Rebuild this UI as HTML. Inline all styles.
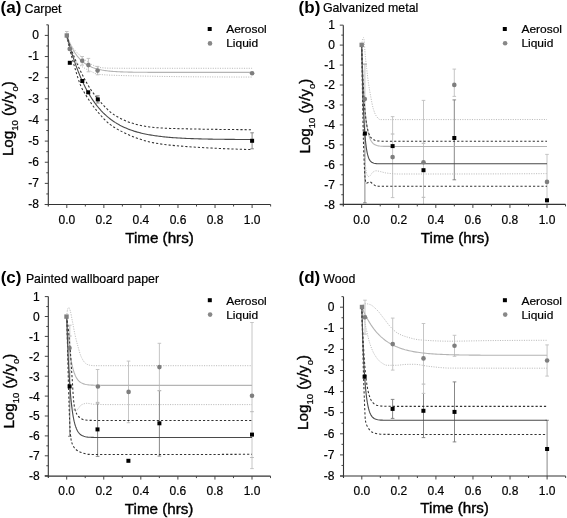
<!DOCTYPE html>
<html><head><meta charset="utf-8"><style>
html,body{margin:0;padding:0;background:#fff;}
svg{display:block;filter:blur(0.3px);}
.tk{font-size:12px;stroke:#000;stroke-width:0.2px;}
.ax{font-size:15.2px;stroke:#000;stroke-width:0.4px;}
.sb{font-size:9.5px;stroke-width:0.25px;}
.tt{font-size:17px;font-weight:bold;}
.st{font-size:12.35px;stroke:#000;stroke-width:0.2px;}
.lg{font-size:11.3px;stroke:#000;stroke-width:0.2px;}
</style></head><body>
<svg width="567" height="518" viewBox="0 0 567 518" font-family='"Liberation Sans", Arial, Helvetica, sans-serif' fill="#000">
<rect width="567" height="518" fill="#fff"/>
<path d="M97.8,95.8V103M96,95.8H99.6M96,103H99.6" stroke="#7a7a7a" stroke-width="0.9" fill="none"/>
<path d="M252.1,132.8V148.8M250.3,132.8H253.9M250.3,148.8H253.9" stroke="#7a7a7a" stroke-width="0.9" fill="none"/>
<path d="M66.8,31.5V39.5M65,31.5H68.6" stroke="#c0c0c0" stroke-width="0.9" fill="none"/>
<path d="M82.2,56.5V65.1M80.4,56.5H84M80.4,65.1H84" stroke="#c0c0c0" stroke-width="0.9" fill="none"/>
<path d="M88.4,58.4V71.8M86.6,58.4H90.2M86.6,71.8H90.2" stroke="#c0c0c0" stroke-width="0.9" fill="none"/>
<path d="M97.6,66.4V74.8M95.8,66.4H99.4M95.8,74.8H99.4" stroke="#c0c0c0" stroke-width="0.9" fill="none"/>
<path d="M252.1,72V74.5" stroke="#c0c0c0" stroke-width="0.9" fill="none"/>
<path d="M66.8,35.4C68.3,39.41 69.8,43.09 71.3,45.5C73.37,48.83 75.43,50.93 77.49,53.09C79.59,55.3 81.69,57.18 83.79,58.87C86.47,61.02 89.14,63.27 91.82,64.57C94.47,65.87 97.13,67.23 99.78,67.53C103,67.9 106.21,68.13 109.42,68.17C116.83,68.25 124.24,68.29 131.66,68.29C171.8,68.29 211.95,68.29 252.1,68.29" stroke="#b8b8b8" stroke-width="0.95" stroke-dasharray="1.1 1.3" fill="none"/>
<path d="M66.8,35.4C67.83,41.95 68.86,47.59 69.89,50.62C70.9,53.58 71.91,55.26 72.91,56.96C74.44,59.55 75.97,61.85 77.49,63.3C79.59,65.3 81.69,66.5 83.79,67.74C86.16,69.14 88.52,70.26 90.89,71.34C93.11,72.35 95.34,73.72 97.56,74.09C100.37,74.55 103.18,74.76 105.99,74.93C109.36,75.13 112.72,75.24 116.09,75.35C127.45,75.73 138.82,76 150.19,76.2C165.63,76.48 181.07,76.74 196.51,76.83C215.04,76.95 233.57,77.05 252.1,77.05" stroke="#b8b8b8" stroke-width="0.95" stroke-dasharray="1.1 1.3" fill="none"/>
<path d="M66.8,35.4 67.22,36.59 67.64,37.77 68.14,39.08 68.65,40.39 69.15,41.6 69.7,42.9 70.3,44.27 70.83,45.41 71.4,46.58 72,47.76 72.64,48.97 73.31,50.17 74.03,51.38 74.78,52.58 75.57,53.76 76.39,54.93 77.25,56.07 78.15,57.18 79.09,58.25 80.06,59.29 81.07,60.28 82.12,61.24 83.2,62.14 84.32,63 85.48,63.82 86.67,64.58 87.91,65.3 89.18,65.97 90.48,66.6 91.83,67.18 93.21,67.71 94.62,68.2 96.08,68.65 97.57,69.07 99.1,69.44 100.66,69.78 101.86,70.02 103.08,70.23 104.32,70.43 105.58,70.62 106.87,70.79 108.17,70.94 109.49,71.09 110.84,71.22 112.2,71.34 113.59,71.44 115,71.54 116.42,71.63 117.87,71.72 119.34,71.79 120.83,71.86 122.34,71.92 123.88,71.97 125.43,72.02 127,72.06 128.6,72.1 130.21,72.14 131.85,72.17 133.51,72.19 135.19,72.22 136.89,72.24 138.6,72.26 140.35,72.28 142.11,72.29 143.89,72.31 145.69,72.32 146.91,72.32 148.13,72.33 149.36,72.34 150.6,72.34 151.85,72.35 153.11,72.35 154.38,72.36 155.66,72.36 156.95,72.36 158.25,72.37 159.55,72.37 160.87,72.37 162.19,72.37 163.53,72.38 164.87,72.38 166.22,72.38 167.59,72.38 168.96,72.38 170.34,72.38 171.73,72.38 173.13,72.39 174.53,72.39 175.95,72.39 177.38,72.39 178.82,72.39 180.26,72.39 181.71,72.39 183.18,72.39 184.65,72.39 186.13,72.39 187.63,72.39 189.13,72.39 190.64,72.39 192.16,72.39 193.69,72.39 195.22,72.39 196.77,72.39 198.33,72.39 199.89,72.39 201.47,72.39 203.05,72.39 204.65,72.39 206.25,72.39 207.86,72.39 209.48,72.39 211.11,72.39 212.75,72.39 214.4,72.39 216.06,72.39 217.73,72.39 219.4,72.39 221.09,72.39 222.79,72.39 224.49,72.39 226.21,72.39 227.93,72.39 229.66,72.39 231.4,72.39 233.15,72.39 234.91,72.39 236.68,72.39 238.46,72.39 240.25,72.39 242.05,72.39 243.86,72.39 245.67,72.39 247.5,72.39 249.33,72.39 251.17,72.39 252.1,72.39" stroke="#b4b4b4" stroke-width="1.1" fill="none"/>
<path d="M66.8,35.4C67.83,38.81 68.86,42.09 69.89,45.12C71.33,49.35 72.77,53.43 74.21,56.96C77.11,64.07 80.01,70.17 82.9,75.78C85.47,80.74 88.03,85.44 90.59,89.31C92.54,92.25 94.5,94.69 96.45,97.13C98.36,99.53 100.28,101.83 102.19,103.89C105.22,107.15 108.25,110.52 111.27,112.77C115.23,115.71 119.18,118.01 123.13,119.75C127.58,121.71 132.03,123.3 136.47,124.4C140.86,125.49 145.24,126.35 149.63,126.94C152.29,127.29 154.94,127.59 157.6,127.78C161.74,128.07 165.87,128.27 170.01,128.42C178.84,128.72 187.68,128.89 196.51,129.05C205.78,129.22 215.04,129.38 224.31,129.47C233.57,129.57 242.84,129.65 252.1,129.68" stroke="#333" stroke-width="1.05" stroke-dasharray="2.2 2" fill="none"/>
<path d="M66.8,35.4C67.83,40.37 68.86,45.1 69.89,49.35C71.33,55.29 72.77,60.74 74.21,65.63C76.47,73.32 78.73,81.29 80.99,86.35C82.59,89.93 84.19,92.37 85.79,95.01C87.74,98.24 89.68,101.14 91.63,103.89C93.54,106.6 95.46,109.26 97.37,111.5C101.57,116.43 105.77,121.23 109.97,124.4C114.36,127.7 118.75,130.04 123.13,132.22C127.58,134.43 132.03,136.34 136.47,137.93C140.86,139.49 145.24,140.93 149.63,141.95C152.59,142.63 155.56,143.18 158.52,143.64C162.35,144.23 166.18,144.71 170.01,145.12C174.71,145.62 179.4,146.03 184.09,146.38C193.11,147.06 202.13,147.66 211.15,148.08C224.8,148.71 238.45,149.28 252.1,149.56" stroke="#333" stroke-width="1.05" stroke-dasharray="2.2 2" fill="none"/>
<path d="M66.8,35.4 67.13,36.69 67.47,37.96 67.84,39.37 68.22,40.76 68.56,42.02 68.94,43.39 69.36,44.87 69.7,46.05 70.05,47.29 70.43,48.58 70.83,49.93 71.25,51.32 71.69,52.76 72.16,54.24 72.64,55.76 73.14,57.32 73.67,58.91 74.21,60.54 74.78,62.19 75.37,63.86 75.97,65.56 76.39,66.7 76.82,67.85 77.25,69 77.7,70.16 78.15,71.33 78.61,72.49 79.09,73.66 79.57,74.84 80.06,76.01 80.56,77.18 81.07,78.36 81.59,79.53 82.12,80.7 82.65,81.87 83.2,83.03 83.76,84.19 84.32,85.34 84.9,86.49 85.48,87.64 86.07,88.77 86.67,89.9 87.29,91.02 87.91,92.13 88.54,93.23 89.18,94.32 89.82,95.4 90.48,96.47 91.15,97.53 91.83,98.58 92.51,99.61 93.21,100.63 93.91,101.64 94.62,102.64 95.35,103.62 96.08,104.59 96.82,105.54 97.57,106.48 98.71,107.86 99.88,109.21 101.06,110.52 102.27,111.8 103.49,113.04 104.74,114.25 106.01,115.42 107.3,116.55 108.61,117.65 109.94,118.71 111.29,119.74 112.66,120.73 114.06,121.68 115.47,122.6 116.91,123.49 118.36,124.34 119.84,125.16 121.33,125.94 122.85,126.69 124.39,127.41 125.95,128.1 127.53,128.76 129.13,129.39 130.76,129.99 132.4,130.56 134.07,131.11 135.75,131.62 137.46,132.12 139.18,132.58 140.35,132.88 141.52,133.17 142.7,133.45 143.89,133.71 145.09,133.97 146.3,134.22 147.52,134.46 148.74,134.69 149.98,134.91 151.23,135.13 152.48,135.33 153.75,135.53 155.02,135.72 156.3,135.9 157.6,136.08 158.9,136.24 160.21,136.4 161.53,136.56 162.86,136.71 164.2,136.85 165.55,136.98 166.9,137.11 168.27,137.24 169.65,137.36 171.03,137.47 172.43,137.58 173.83,137.68 175.24,137.78 176.66,137.88 178.1,137.97 179.54,138.05 180.99,138.14 182.45,138.21 183.91,138.29 185.39,138.36 186.88,138.43 188.38,138.49 189.88,138.55 191.4,138.61 192.92,138.67 194.45,138.72 196,138.77 197.55,138.82 199.11,138.86 200.68,138.91 202.26,138.95 203.85,138.99 205.45,139.02 207.05,139.06 208.67,139.09 210.3,139.12 211.93,139.15 213.58,139.18 215.23,139.21 216.89,139.23 218.57,139.25 220.25,139.28 221.94,139.3 223.64,139.32 225.35,139.34 227.07,139.35 228.79,139.37 230.53,139.39 232.28,139.4 234.03,139.41 235.8,139.43 237.57,139.44 239.36,139.45 241.15,139.46 242.95,139.47 244.76,139.48 246.58,139.49 248.41,139.5 250.25,139.51 252.1,139.52" stroke="#4a4a4a" stroke-width="1.1" fill="none"/>
<rect x="64.6" y="33.3" width="4.4" height="4.4" fill="#808080"/>
<circle cx="69.7" cy="48.9" r="2.3" fill="#7e7e7e"/>
<circle cx="82.2" cy="60.8" r="2.3" fill="#7e7e7e"/>
<circle cx="88.4" cy="65.1" r="2.3" fill="#7e7e7e"/>
<circle cx="97.6" cy="70.6" r="2.3" fill="#7e7e7e"/>
<circle cx="252.1" cy="73.2" r="2.3" fill="#7e7e7e"/>
<rect x="67.8" y="60.8" width="4" height="4" fill="#000"/>
<rect x="80.3" y="79" width="4" height="4" fill="#000"/>
<rect x="86.2" y="90.3" width="4" height="4" fill="#000"/>
<rect x="95.8" y="97.4" width="4" height="4" fill="#000"/>
<rect x="250.1" y="138.8" width="4" height="4" fill="#000"/>
<path d="M364.9,64.2V64.3M364.9,133.9V202.8M363.1,64.2H366.7M363.1,202.8H366.7" stroke="#7a7a7a" stroke-width="0.9" fill="none"/>
<path d="M390.8,134H394.4M390.8,158.2H394.4" stroke="#ababab" stroke-width="0.9" fill="none"/>
<path d="M421.7,143.3H425.3M421.7,197.3H425.3" stroke="#ababab" stroke-width="0.9" fill="none"/>
<path d="M454.3,99.9V179.8M452.5,99.9H456.1M452.5,179.8H456.1" stroke="#7a7a7a" stroke-width="0.9" fill="none"/>
<path d="M364.9,64.3V133.9M363.1,64.3H366.7" stroke="#c0c0c0" stroke-width="0.9" fill="none"/>
<path d="M392.6,116.6V197.6M390.8,116.6H394.4M390.8,197.6H394.4" stroke="#c0c0c0" stroke-width="0.9" fill="none"/>
<path d="M423.5,100.4V204M421.7,100.4H425.3" stroke="#c0c0c0" stroke-width="0.9" fill="none"/>
<path d="M454.3,69.1V96.4M452.5,69.1H456.1M452.5,96.4H456.1" stroke="#c0c0c0" stroke-width="0.9" fill="none"/>
<path d="M547,154.4V204M545.2,154.4H548.8" stroke="#c0c0c0" stroke-width="0.9" fill="none"/>
<path d="M361.7,45.1C362,42.3 362.3,39.7 362.6,39C362.93,38.22 363.27,37.6 363.6,37.6C363.87,37.6 364.13,40.35 364.4,43C364.57,44.65 364.73,49.16 364.9,51.3C365.5,59.01 366.1,63.39 366.7,68.7C367.27,73.72 367.83,78.65 368.4,82.6C369.23,88.4 370.07,93.08 370.9,97.5C371.67,101.56 372.43,106 373.2,108.5C374.27,111.98 375.33,114.79 376.4,116.2C377.67,117.87 378.93,119.6 380.2,119.6C383.47,119.6 386.73,119.6 390,119.6C442.33,119.6 494.67,119.56 547,119.5" stroke="#b8b8b8" stroke-width="0.95" stroke-dasharray="1.1 1.3" fill="none"/>
<path d="M361.7,45.1C362.03,63.95 362.37,81.27 362.7,95C363.13,112.85 363.57,129.85 364,140C364.43,150.15 364.87,158.19 365.3,163C365.73,167.81 366.17,172.17 366.6,173.5C367.17,175.23 367.73,176.6 368.3,176.6C368.97,176.6 369.63,176.02 370.3,175.5C371.03,174.93 371.77,173.04 372.5,172.5C373.67,171.63 374.83,170.8 376,170.8C377.5,170.8 379,171.29 380.5,171.6C382.2,171.95 383.9,172.66 385.6,172.9C389.73,173.48 393.87,174 398,174C447.67,174 497.33,174 547,173.6" stroke="#b8b8b8" stroke-width="0.95" stroke-dasharray="1.1 1.3" fill="none"/>
<path d="M361.7,45.1 361.74,46.39 361.79,47.98 361.84,49.38 361.9,51.02 361.96,52.91 362.03,55.02 362.12,57.33 362.16,58.56 362.21,59.83 362.26,61.15 362.31,62.51 362.37,63.9 362.42,65.33 362.48,66.79 362.54,68.28 362.61,69.8 362.67,71.34 362.74,72.9 362.81,74.48 362.89,76.08 362.96,77.69 363.04,79.31 363.12,80.94 363.2,82.58 363.29,84.22 363.37,85.86 363.46,87.5 363.55,89.13 363.65,90.76 363.74,92.38 363.84,94 363.94,95.6 364.05,97.18 364.15,98.76 364.26,100.31 364.37,101.85 364.48,103.36 364.6,104.85 364.71,106.32 364.83,107.77 364.95,109.19 365.08,110.58 365.2,111.95 365.33,113.29 365.46,114.59 365.6,115.87 365.73,117.12 365.87,118.34 366.15,120.68 366.44,122.89 366.74,124.97 367.06,126.93 367.37,128.76 367.7,130.46 368.04,132.04 368.39,133.5 368.75,134.84 369.11,136.08 369.68,137.74 370.27,139.18 370.87,140.42 371.5,141.48 372.37,142.64 373.28,143.57 374.47,144.45 375.71,145.09 377.02,145.53 378.38,145.85 379.8,146.06 381.27,146.2 382.5,146.28 383.76,146.33 385.05,146.37 386.39,146.39 387.76,146.41 389.17,146.42 390.61,146.43 392.09,146.44 393.61,146.44 395.17,146.44 396.76,146.44 397.98,146.44 399.22,146.45 400.48,146.45 401.77,146.45 403.07,146.45 404.39,146.45 405.74,146.45 407.1,146.45 408.49,146.45 409.9,146.45 411.32,146.45 412.77,146.45 414.24,146.45 415.73,146.45 417.24,146.45 418.78,146.45 420.33,146.45 421.9,146.45 423.5,146.45 425.11,146.45 426.75,146.45 428.41,146.45 430.09,146.45 431.79,146.45 433.5,146.45 435.25,146.45 437.01,146.45 438.79,146.45 440.59,146.45 441.81,146.45 443.03,146.45 444.26,146.45 445.5,146.45 446.75,146.45 448.01,146.45 449.28,146.45 450.56,146.45 451.85,146.45 453.15,146.45 454.45,146.45 455.77,146.45 457.09,146.45 458.43,146.45 459.77,146.45 461.12,146.45 462.49,146.45 463.86,146.45 465.24,146.45 466.63,146.45 468.03,146.45 469.43,146.45 470.85,146.45 472.28,146.45 473.72,146.45 475.16,146.45 476.61,146.45 478.08,146.45 479.55,146.45 481.03,146.45 482.53,146.45 484.03,146.45 485.54,146.45 487.06,146.45 488.59,146.45 490.12,146.45 491.67,146.45 493.23,146.45 494.79,146.45 496.37,146.45 497.95,146.45 499.55,146.45 501.15,146.45 502.76,146.45 504.38,146.45 506.01,146.45 507.65,146.45 509.3,146.45 510.96,146.45 512.63,146.45 514.3,146.45 515.99,146.45 517.69,146.45 519.39,146.45 521.11,146.45 522.83,146.45 524.56,146.45 526.3,146.45 528.05,146.45 529.81,146.45 531.58,146.45 533.36,146.45 535.15,146.45 536.95,146.45 538.76,146.45 540.57,146.45 542.4,146.45 544.23,146.45 546.07,146.45 547,146.45" stroke="#b4b4b4" stroke-width="1.1" fill="none"/>
<path d="M361.7,45.1 361.74,46.5 361.79,48.21 361.84,49.71 361.9,51.48 361.96,53.5 362.03,55.75 362.08,56.96 362.12,58.22 362.16,59.52 362.21,60.87 362.26,62.26 362.31,63.7 362.37,65.16 362.42,66.66 362.48,68.19 362.54,69.75 362.61,71.33 362.67,72.93 362.74,74.55 362.81,76.18 362.89,77.82 362.96,79.48 363.04,81.14 363.12,82.8 363.2,84.46 363.29,86.12 363.37,87.78 363.46,89.42 363.55,91.06 363.65,92.68 363.74,94.3 363.84,95.89 363.94,97.46 364.05,99.02 364.15,100.55 364.26,102.06 364.37,103.55 364.48,105 364.6,106.43 364.71,107.83 364.83,109.2 364.95,110.54 365.08,111.85 365.2,113.12 365.33,114.36 365.46,115.57 365.73,117.88 366.01,120.05 366.3,122.08 366.59,123.98 366.9,125.74 367.21,127.36 367.54,128.85 367.87,130.22 368.21,131.47 368.75,133.14 369.3,134.57 369.87,135.79 370.67,137.12 371.5,138.17 372.6,139.16 373.75,139.85 374.96,140.34 376.23,140.67 377.55,140.89 378.94,141.03 380.38,141.12 381.88,141.18 383.12,141.21 384.4,141.23 385.71,141.24 387.07,141.25 388.46,141.25 389.88,141.25 391.35,141.26 392.85,141.26 394.39,141.26 395.96,141.26 397.17,141.26 398.39,141.26 399.64,141.26 400.91,141.26 402.2,141.26 403.51,141.26 404.84,141.26 406.19,141.26 407.56,141.26 408.96,141.26 410.37,141.26 411.81,141.26 413.26,141.26 414.74,141.26 416.23,141.26 417.75,141.26 419.29,141.26 420.85,141.26 422.43,141.26 424.03,141.26 425.66,141.26 427.3,141.26 428.97,141.26 430.65,141.26 432.36,141.26 434.08,141.26 435.83,141.26 437.6,141.26 439.39,141.26 440.59,141.26 441.81,141.26 443.03,141.26 444.26,141.26 445.5,141.26 446.75,141.26 448.01,141.26 449.28,141.26 450.56,141.26 451.85,141.26 453.15,141.26 454.45,141.26 455.77,141.26 457.09,141.26 458.43,141.26 459.77,141.26 461.12,141.26 462.49,141.26 463.86,141.26 465.24,141.26 466.63,141.26 468.03,141.26 469.43,141.26 470.85,141.26 472.28,141.26 473.72,141.26 475.16,141.26 476.61,141.26 478.08,141.26 479.55,141.26 481.03,141.26 482.53,141.26 484.03,141.26 485.54,141.26 487.06,141.26 488.59,141.26 490.12,141.26 491.67,141.26 493.23,141.26 494.79,141.26 496.37,141.26 497.95,141.26 499.55,141.26 501.15,141.26 502.76,141.26 504.38,141.26 506.01,141.26 507.65,141.26 509.3,141.26 510.96,141.26 512.63,141.26 514.3,141.26 515.99,141.26 517.69,141.26 519.39,141.26 521.11,141.26 522.83,141.26 524.56,141.26 526.3,141.26 528.05,141.26 529.81,141.26 531.58,141.26 533.36,141.26 535.15,141.26 536.95,141.26 538.76,141.26 540.57,141.26 542.4,141.26 544.23,141.26 546.07,141.26 547,141.26" stroke="#333" stroke-width="1.05" stroke-dasharray="2.2 2" fill="none"/>
<path d="M361.7,45.1C361.97,63.29 362.23,80.17 362.5,95C362.8,111.69 363.1,129.29 363.4,140C363.7,150.71 364,158.7 364.3,165C364.53,169.9 364.77,174.59 365,177C365.2,179.07 365.4,180.72 365.6,181.5C365.83,182.4 366.07,183.3 366.3,183.3C366.7,183.3 367.1,182.97 367.5,182.8C368.23,182.5 368.97,181.9 369.7,181.9C370.63,181.9 371.57,182.98 372.5,183.6C373.33,184.15 374.17,185.1 375,185.4C376.17,185.82 377.33,186.16 378.5,186.2C380.67,186.27 382.83,186.3 385,186.3C439,186.3 493,186.3 547,186.3" stroke="#333" stroke-width="1.05" stroke-dasharray="2.2 2" fill="none"/>
<path d="M361.7,45.1 361.73,46.57 361.76,47.97 361.79,49.81 361.84,52.07 361.87,53.35 361.9,54.72 361.93,56.18 361.96,57.73 362,59.36 362.03,61.07 362.08,62.85 362.12,64.7 362.16,66.62 362.21,68.59 362.26,70.61 362.31,72.69 362.37,74.8 362.42,76.96 362.48,79.14 362.54,81.36 362.61,83.59 362.67,85.85 362.74,88.11 362.81,90.39 362.89,92.66 362.96,94.94 363.04,97.21 363.12,99.47 363.2,101.71 363.29,103.94 363.37,106.14 363.46,108.32 363.55,110.47 363.65,112.58 363.74,114.67 363.84,116.71 363.94,118.71 364.05,120.68 364.15,122.59 364.26,124.47 364.37,126.29 364.48,128.07 364.6,129.79 364.71,131.47 364.83,133.09 364.95,134.66 365.08,136.18 365.2,137.65 365.33,139.06 365.46,140.42 365.6,141.72 365.73,142.98 365.87,144.18 366.15,146.43 366.44,148.49 366.74,150.36 367.06,152.04 367.37,153.56 367.7,154.92 368.04,156.12 368.57,157.68 369.11,158.96 369.87,160.32 370.67,161.33 371.72,162.23 372.82,162.83 373.99,163.21 375.21,163.45 376.49,163.6 377.83,163.69 379.22,163.74 380.67,163.77 381.88,163.78 383.12,163.79 384.4,163.8 385.71,163.8 387.07,163.8 388.46,163.8 389.88,163.8 391.35,163.8 392.85,163.8 394.39,163.8 395.96,163.8 397.17,163.8 398.39,163.8 399.64,163.8 400.91,163.8 402.2,163.8 403.51,163.8 404.84,163.8 406.19,163.8 407.56,163.8 408.96,163.8 410.37,163.8 411.81,163.8 413.26,163.8 414.74,163.8 416.23,163.8 417.75,163.8 419.29,163.8 420.85,163.8 422.43,163.8 424.03,163.8 425.66,163.8 427.3,163.8 428.97,163.8 430.65,163.8 432.36,163.8 434.08,163.8 435.83,163.8 437.6,163.8 439.39,163.8 440.59,163.8 441.81,163.8 443.03,163.8 444.26,163.8 445.5,163.8 446.75,163.8 448.01,163.8 449.28,163.8 450.56,163.8 451.85,163.8 453.15,163.8 454.45,163.8 455.77,163.8 457.09,163.8 458.43,163.8 459.77,163.8 461.12,163.8 462.49,163.8 463.86,163.8 465.24,163.8 466.63,163.8 468.03,163.8 469.43,163.8 470.85,163.8 472.28,163.8 473.72,163.8 475.16,163.8 476.61,163.8 478.08,163.8 479.55,163.8 481.03,163.8 482.53,163.8 484.03,163.8 485.54,163.8 487.06,163.8 488.59,163.8 490.12,163.8 491.67,163.8 493.23,163.8 494.79,163.8 496.37,163.8 497.95,163.8 499.55,163.8 501.15,163.8 502.76,163.8 504.38,163.8 506.01,163.8 507.65,163.8 509.3,163.8 510.96,163.8 512.63,163.8 514.3,163.8 515.99,163.8 517.69,163.8 519.39,163.8 521.11,163.8 522.83,163.8 524.56,163.8 526.3,163.8 528.05,163.8 529.81,163.8 531.58,163.8 533.36,163.8 535.15,163.8 536.95,163.8 538.76,163.8 540.57,163.8 542.4,163.8 544.23,163.8 546.07,163.8 547,163.8" stroke="#4a4a4a" stroke-width="1.1" fill="none"/>
<rect x="359.5" y="42.7" width="4.4" height="4.4" fill="#808080"/>
<circle cx="364.8" cy="99.1" r="2.3" fill="#7e7e7e"/>
<circle cx="392.6" cy="157.1" r="2.3" fill="#7e7e7e"/>
<circle cx="423.5" cy="162.3" r="2.3" fill="#7e7e7e"/>
<circle cx="454.3" cy="84.9" r="2.3" fill="#7e7e7e"/>
<circle cx="547" cy="181.9" r="2.3" fill="#7e7e7e"/>
<rect x="362.9" y="131.5" width="4" height="4" fill="#000"/>
<rect x="390.6" y="144.1" width="4" height="4" fill="#000"/>
<rect x="421.5" y="168.2" width="4" height="4" fill="#000"/>
<rect x="452.3" y="136" width="4" height="4" fill="#000"/>
<rect x="545" y="198.3" width="4" height="4" fill="#000"/>
<path d="M69.8,370.4V436.3M68,436.3H71.6" stroke="#7a7a7a" stroke-width="0.9" fill="none"/>
<path d="M68,336H71.6" stroke="#ababab" stroke-width="0.9" fill="none"/>
<path d="M97.6,403.5V456.4M95.8,456.4H99.4" stroke="#7a7a7a" stroke-width="0.9" fill="none"/>
<path d="M95.8,402.4H99.4" stroke="#ababab" stroke-width="0.9" fill="none"/>
<path d="M159.4,390.9V456.1M157.6,456.1H161.2" stroke="#7a7a7a" stroke-width="0.9" fill="none"/>
<path d="M157.6,390.5H161.2" stroke="#ababab" stroke-width="0.9" fill="none"/>
<path d="M250.2,411.7H253.8M250.2,457.5H253.8" stroke="#ababab" stroke-width="0.9" fill="none"/>
<path d="M69.8,325.2V370.4M68,325.2H71.6M68,370.4H71.6" stroke="#c0c0c0" stroke-width="0.9" fill="none"/>
<path d="M97.6,369.5V403.5M95.8,369.5H99.4M95.8,403.5H99.4" stroke="#c0c0c0" stroke-width="0.9" fill="none"/>
<path d="M128.5,361.1V422.7M126.7,361.1H130.3M126.7,422.7H130.3" stroke="#c0c0c0" stroke-width="0.9" fill="none"/>
<path d="M159.4,343.3V390.9M157.6,343.3H161.2M157.6,390.9H161.2" stroke="#c0c0c0" stroke-width="0.9" fill="none"/>
<path d="M252,322.5V468.6M250.2,322.5H253.8M250.2,468.6H253.8" stroke="#c0c0c0" stroke-width="0.9" fill="none"/>
<path d="M66.7,316.5C67,313.32 67.3,310.22 67.6,309.4C68,308.31 68.4,307.5 68.8,307.5C69.3,307.5 69.8,309.45 70.3,311C70.97,313.07 71.63,317.46 72.3,320.8C73.2,325.31 74.1,330.65 75,334.7C75.93,338.91 76.87,342.58 77.8,345.9C78.97,350.05 80.13,354.59 81.3,357C82.67,359.83 84.03,362.21 85.4,363.2C86.8,364.22 88.2,364.98 89.6,365.2C91.4,365.49 93.2,365.7 95,365.7C147.33,365.7 199.67,365.7 252,365.7" stroke="#b8b8b8" stroke-width="0.95" stroke-dasharray="1.1 1.3" fill="none"/>
<path d="M66.7,316.5C67.07,328.89 67.43,340.37 67.8,350C68.27,362.26 68.73,374.91 69.2,382C69.73,390.1 70.27,396.76 70.8,400C71.5,404.26 72.2,407.15 72.9,408.5C73.73,410.11 74.57,411.6 75.4,411.6C76.33,411.6 77.27,409.64 78.2,408.6C79.3,407.38 80.4,405.32 81.5,404.8C83.27,403.96 85.03,403.3 86.8,403.3C89.53,403.3 92.27,404.33 95,404.4C100,404.53 105,404.6 110,404.6C157.33,404.6 204.67,404.6 252,404.6" stroke="#b8b8b8" stroke-width="0.95" stroke-dasharray="1.1 1.3" fill="none"/>
<path d="M66.7,316.5 66.79,317.95 66.9,319.49 67,320.97 67.12,322.73 67.21,324.03 67.31,325.43 67.42,326.92 67.54,328.49 67.67,330.14 67.81,331.85 67.96,333.62 68.12,335.43 68.29,337.29 68.46,339.17 68.65,341.07 68.84,342.98 69.05,344.89 69.26,346.8 69.48,348.69 69.71,350.57 69.95,352.42 70.2,354.23 70.46,356.01 70.73,357.74 71.01,359.43 71.3,361.06 71.59,362.64 71.9,364.16 72.21,365.62 72.54,367.02 72.87,368.36 73.21,369.63 73.57,370.83 74.11,372.52 74.68,374.07 75.27,375.47 75.87,376.75 76.5,377.89 77.15,378.91 78.05,380.1 78.99,381.1 79.96,381.94 80.97,382.64 82.28,383.34 83.66,383.88 85.09,384.29 86.27,384.54 87.5,384.74 88.76,384.89 90.05,385.01 91.39,385.1 92.76,385.17 94.17,385.22 95.61,385.26 97.09,385.28 98.61,385.3 100.17,385.32 101.76,385.33 102.98,385.34 104.22,385.34 105.48,385.34 106.77,385.35 108.07,385.35 109.39,385.35 110.74,385.35 112.1,385.35 113.49,385.35 114.9,385.35 116.32,385.35 117.77,385.35 119.24,385.35 120.73,385.35 122.24,385.35 123.78,385.35 125.33,385.35 126.9,385.35 128.5,385.35 130.11,385.35 131.75,385.35 133.41,385.35 135.09,385.35 136.79,385.35 138.5,385.35 140.25,385.35 142.01,385.35 143.79,385.35 145.59,385.35 146.81,385.35 148.03,385.35 149.26,385.35 150.5,385.35 151.75,385.35 153.01,385.35 154.28,385.35 155.56,385.35 156.85,385.35 158.15,385.35 159.45,385.35 160.77,385.35 162.09,385.35 163.43,385.35 164.77,385.35 166.12,385.35 167.49,385.35 168.86,385.35 170.24,385.35 171.63,385.35 173.03,385.35 174.43,385.35 175.85,385.35 177.28,385.35 178.72,385.35 180.16,385.35 181.61,385.35 183.08,385.35 184.55,385.35 186.03,385.35 187.53,385.35 189.03,385.35 190.54,385.35 192.06,385.35 193.59,385.35 195.12,385.35 196.67,385.35 198.23,385.35 199.79,385.35 201.37,385.35 202.95,385.35 204.55,385.35 206.15,385.35 207.76,385.35 209.38,385.35 211.01,385.35 212.65,385.35 214.3,385.35 215.96,385.35 217.63,385.35 219.3,385.35 220.99,385.35 222.69,385.35 224.39,385.35 226.11,385.35 227.83,385.35 229.56,385.35 231.3,385.35 233.05,385.35 234.81,385.35 236.58,385.35 238.36,385.35 240.15,385.35 241.95,385.35 243.76,385.35 245.57,385.35 247.4,385.35 249.23,385.35 251.07,385.35 252,385.35" stroke="#b4b4b4" stroke-width="1.1" fill="none"/>
<path d="M66.7,316.5C67.33,320.71 67.97,326.03 68.6,332C69.2,337.65 69.8,344.19 70.4,352C70.83,357.64 71.27,365.56 71.7,372C72,376.46 72.3,380.21 72.6,385C72.83,388.73 73.07,394.88 73.3,397.4C73.87,403.52 74.43,407.61 75,409.5C76.17,413.4 77.33,415.4 78.5,416.5C80.53,418.41 82.57,419.79 84.6,420C87.07,420.25 89.53,420.4 92,420.4C145.33,420.4 198.67,420.4 252,420.4" stroke="#333" stroke-width="1.05" stroke-dasharray="2.2 2" fill="none"/>
<path d="M66.7,316.5C67,327.27 67.3,338.44 67.6,350C67.93,362.85 68.27,378.57 68.6,390C68.93,401.43 69.27,413.09 69.6,420C69.97,427.6 70.33,434.8 70.7,437.3C71.27,441.16 71.83,442.99 72.4,444.3C73.57,446.99 74.73,448.58 75.9,449.5C78.23,451.35 80.57,452.33 82.9,453C85.2,453.66 87.5,454.35 89.8,454.4C93.2,454.47 96.6,454.5 100,454.5C150.67,454.5 201.33,454.5 252,454.3" stroke="#333" stroke-width="1.05" stroke-dasharray="2.2 2" fill="none"/>
<path d="M66.7,316.5 66.74,317.85 66.79,319.52 66.84,320.99 66.9,322.72 66.96,324.72 67.03,326.95 67.08,328.15 67.12,329.41 67.16,330.72 67.21,332.08 67.26,333.48 67.31,334.94 67.37,336.43 67.42,337.97 67.48,339.54 67.54,341.15 67.61,342.79 67.67,344.46 67.74,346.16 67.81,347.89 67.89,349.63 67.96,351.4 68.04,353.18 68.12,354.98 68.2,356.79 68.29,358.61 68.37,360.44 68.46,362.27 68.55,364.11 68.65,365.94 68.74,367.77 68.84,369.6 68.94,371.42 69.05,373.23 69.15,375.04 69.26,376.82 69.37,378.6 69.48,380.36 69.6,382.1 69.71,383.82 69.83,385.52 69.95,387.2 70.08,388.85 70.2,390.48 70.33,392.08 70.46,393.66 70.6,395.21 70.73,396.72 70.87,398.21 71.01,399.67 71.15,401.1 71.3,402.49 71.44,403.85 71.59,405.18 71.74,406.48 71.9,407.74 72.06,408.97 72.21,410.16 72.54,412.45 72.87,414.61 73.21,416.63 73.57,418.52 73.93,420.28 74.3,421.92 74.68,423.44 75.07,424.84 75.47,426.13 75.87,427.31 76.5,428.9 77.15,430.28 77.82,431.48 78.51,432.5 79.47,433.63 80.46,434.54 81.49,435.25 82.55,435.81 83.94,436.34 85.38,436.71 86.57,436.92 87.81,437.09 89.08,437.2 90.38,437.29 91.73,437.35 93.11,437.39 94.52,437.43 95.98,437.45 97.47,437.46 99,437.47 100.56,437.48 102.17,437.48 103.39,437.49 104.64,437.49 105.91,437.49 107.2,437.49 108.51,437.49 109.84,437.49 111.19,437.49 112.56,437.49 113.96,437.49 115.37,437.49 116.81,437.49 118.26,437.49 119.74,437.49 121.23,437.49 122.75,437.49 124.29,437.49 125.85,437.49 127.43,437.49 129.03,437.49 130.66,437.49 132.3,437.49 133.97,437.49 135.65,437.49 137.36,437.49 139.08,437.49 140.83,437.49 142.6,437.49 144.39,437.49 145.59,437.49 146.81,437.49 148.03,437.49 149.26,437.49 150.5,437.49 151.75,437.49 153.01,437.49 154.28,437.49 155.56,437.49 156.85,437.49 158.15,437.49 159.45,437.49 160.77,437.49 162.09,437.49 163.43,437.49 164.77,437.49 166.12,437.49 167.49,437.49 168.86,437.49 170.24,437.49 171.63,437.49 173.03,437.49 174.43,437.49 175.85,437.49 177.28,437.49 178.72,437.49 180.16,437.49 181.61,437.49 183.08,437.49 184.55,437.49 186.03,437.49 187.53,437.49 189.03,437.49 190.54,437.49 192.06,437.49 193.59,437.49 195.12,437.49 196.67,437.49 198.23,437.49 199.79,437.49 201.37,437.49 202.95,437.49 204.55,437.49 206.15,437.49 207.76,437.49 209.38,437.49 211.01,437.49 212.65,437.49 214.3,437.49 215.96,437.49 217.63,437.49 219.3,437.49 220.99,437.49 222.69,437.49 224.39,437.49 226.11,437.49 227.83,437.49 229.56,437.49 231.3,437.49 233.05,437.49 234.81,437.49 236.58,437.49 238.36,437.49 240.15,437.49 241.95,437.49 243.76,437.49 245.57,437.49 247.4,437.49 249.23,437.49 251.07,437.49 252,437.49" stroke="#4a4a4a" stroke-width="1.1" fill="none"/>
<rect x="64.3" y="314.4" width="4.4" height="4.4" fill="#808080"/>
<circle cx="69.5" cy="348" r="2.3" fill="#7e7e7e"/>
<circle cx="97.9" cy="386.5" r="2.3" fill="#7e7e7e"/>
<circle cx="128.6" cy="391.9" r="2.3" fill="#7e7e7e"/>
<circle cx="159.4" cy="367.1" r="2.3" fill="#7e7e7e"/>
<circle cx="252" cy="395.8" r="2.3" fill="#7e7e7e"/>
<rect x="67.6" y="384.4" width="4" height="4" fill="#000"/>
<rect x="95.5" y="427.4" width="4" height="4" fill="#000"/>
<rect x="126.4" y="458.8" width="4" height="4" fill="#000"/>
<rect x="157.4" y="421.3" width="4" height="4" fill="#000"/>
<rect x="250" y="432.6" width="4" height="4" fill="#000"/>
<path d="M392.6,399.4V418.4M390.8,399.4H394.4M390.8,418.4H394.4" stroke="#7a7a7a" stroke-width="0.9" fill="none"/>
<path d="M423.5,393.4V437.6M421.7,437.6H425.3" stroke="#7a7a7a" stroke-width="0.9" fill="none"/>
<path d="M421.7,384.1H425.3" stroke="#ababab" stroke-width="0.9" fill="none"/>
<path d="M454.5,381.9V441.9M452.7,381.9H456.3M452.7,441.9H456.3" stroke="#7a7a7a" stroke-width="0.9" fill="none"/>
<path d="M547.1,420.3V476M545.3,420.3H548.9" stroke="#7a7a7a" stroke-width="0.9" fill="none"/>
<path d="M365,300.2V334.2M363.2,300.2H366.8M363.2,334.2H366.8" stroke="#c0c0c0" stroke-width="0.9" fill="none"/>
<path d="M392.7,318.1V370.1M390.9,318.1H394.5M390.9,370.1H394.5" stroke="#c0c0c0" stroke-width="0.9" fill="none"/>
<path d="M423.5,323.5V393.4M421.7,323.5H425.3M421.7,393.4H425.3" stroke="#c0c0c0" stroke-width="0.9" fill="none"/>
<path d="M454.5,335.3V356.3M452.7,335.3H456.3M452.7,356.3H456.3" stroke="#c0c0c0" stroke-width="0.9" fill="none"/>
<path d="M547.1,344.9V376.1M545.3,344.9H548.9M545.3,376.1H548.9" stroke="#c0c0c0" stroke-width="0.9" fill="none"/>
<path d="M361.8,307.2C362.37,305.81 362.93,304.45 363.5,304.2C364.17,303.9 364.83,303.7 365.5,303.7C366.97,303.7 368.43,304.09 369.9,304.5C372.2,305.15 374.5,307.63 376.8,309.8C379.13,312 381.47,315.5 383.8,318.4C386.1,321.26 388.4,324.73 390.7,327.1C393.03,329.51 395.37,331.86 397.7,333.2C400.47,334.79 403.23,335.86 406,336.7C410.67,338.12 415.33,339.53 420,339.9C430,340.69 440,341.2 450,341.2C463.33,341.2 476.67,340.71 490,340.6C509,340.45 528,340.3 547,340.3" stroke="#b8b8b8" stroke-width="0.95" stroke-dasharray="1.1 1.3" fill="none"/>
<path d="M361.8,307.2C362.47,310.82 363.13,314.32 363.8,317.6C364.67,321.87 365.53,325.97 366.4,329.7C367.57,334.72 368.73,340.06 369.9,343.6C371.33,347.95 372.77,351.56 374.2,354C376.23,357.46 378.27,360.32 380.3,361.8C382.63,363.49 384.97,365.3 387.3,365.3C390.2,365.3 393.1,365.3 396,365.3C399.33,365.3 402.67,364.47 406,364.4C408.57,364.34 411.13,364.3 413.7,364.3C419.13,364.3 424.57,365.95 430,366.5C436.67,367.18 443.33,368.08 450,368.1C482.33,368.18 514.67,368.2 547,368.2" stroke="#b8b8b8" stroke-width="0.95" stroke-dasharray="1.1 1.3" fill="none"/>
<path d="M361.8,307.2 362.31,308.4 362.84,309.63 363.39,310.84 363.94,312.05 364.47,313.17 365.05,314.38 365.7,315.66 366.25,316.74 366.84,317.86 367.47,319.01 368.14,320.19 368.85,321.4 369.59,322.63 370.37,323.86 371.18,325.11 372.03,326.36 372.92,327.61 373.85,328.86 374.81,330.09 375.81,331.32 376.85,332.52 377.93,333.71 378.76,334.58 379.61,335.44 380.48,336.28 381.37,337.1 382.29,337.91 383.22,338.7 384.18,339.47 385.15,340.22 386.15,340.95 387.17,341.65 388.21,342.34 389.27,343.01 390.35,343.65 391.45,344.27 392.57,344.87 393.71,345.44 394.88,346 396.06,346.53 397.27,347.04 398.49,347.53 399.74,347.99 401.01,348.44 402.3,348.87 403.61,349.27 404.94,349.66 406.29,350.02 407.66,350.37 409.06,350.7 410.47,351.01 411.91,351.31 413.36,351.59 414.84,351.85 416.33,352.1 417.85,352.33 419.39,352.55 420.95,352.76 422.53,352.95 424.13,353.13 425.76,353.3 427.4,353.46 429.07,353.6 430.75,353.74 432.46,353.87 434.18,353.99 435.93,354.1 437.7,354.2 439.49,354.29 440.69,354.35 441.91,354.41 443.13,354.46 444.36,354.51 445.6,354.56 446.85,354.6 448.11,354.65 449.38,354.69 450.66,354.72 451.95,354.76 453.25,354.79 454.55,354.83 455.87,354.86 457.19,354.89 458.53,354.91 459.87,354.94 461.22,354.96 462.59,354.99 463.96,355.01 465.34,355.03 466.73,355.05 468.13,355.06 469.53,355.08 470.95,355.09 472.38,355.11 473.82,355.12 475.26,355.14 476.71,355.15 478.18,355.16 479.65,355.17 481.13,355.18 482.63,355.19 484.13,355.2 485.64,355.21 487.16,355.21 488.69,355.22 490.22,355.23 491.77,355.23 493.33,355.24 494.89,355.24 496.47,355.25 498.05,355.25 499.65,355.26 501.25,355.26 502.86,355.26 504.48,355.27 506.11,355.27 507.75,355.27 509.4,355.28 511.06,355.28 512.73,355.28 514.4,355.28 516.09,355.29 517.79,355.29 519.49,355.29 521.21,355.29 522.93,355.29 524.66,355.29 526.4,355.29 528.15,355.3 529.91,355.3 531.68,355.3 533.46,355.3 535.25,355.3 537.05,355.3 538.86,355.3 540.67,355.3 542.5,355.3 544.33,355.3 546.17,355.3 547.1,355.3" stroke="#b4b4b4" stroke-width="1.1" fill="none"/>
<path d="M361.8,307.2 361.84,308.42 361.89,309.92 361.94,311.24 362,312.8 362.06,314.58 362.13,316.58 362.22,318.77 362.31,321.15 362.36,322.4 362.41,323.69 362.47,325.01 362.52,326.37 362.58,327.76 362.64,329.18 362.71,330.63 362.77,332.1 362.84,333.59 362.91,335.1 362.99,336.63 363.06,338.17 363.14,339.72 363.22,341.28 363.3,342.85 363.39,344.43 363.47,346 363.56,347.58 363.65,349.15 363.75,350.73 363.84,352.29 363.94,353.85 364.04,355.39 364.15,356.93 364.25,358.45 364.36,359.96 364.47,361.45 364.58,362.93 364.7,364.38 364.81,365.81 364.93,367.22 365.05,368.61 365.18,369.97 365.3,371.31 365.43,372.62 365.56,373.91 365.7,375.17 365.83,376.4 365.97,377.6 366.25,379.91 366.54,382.11 366.84,384.18 367.16,386.14 367.47,387.97 367.8,389.68 368.14,391.27 368.49,392.75 368.85,394.12 369.21,395.38 369.59,396.54 370.17,398.09 370.77,399.45 371.39,400.61 372.25,401.91 373.15,402.96 374.09,403.78 375.31,404.57 376.59,405.14 377.93,405.54 379.32,405.82 380.77,406.01 381.98,406.12 383.22,406.2 384.5,406.25 385.81,406.29 387.17,406.32 388.56,406.33 389.98,406.35 391.45,406.36 392.95,406.36 394.49,406.36 396.06,406.37 397.27,406.37 398.49,406.37 399.74,406.37 401.01,406.37 402.3,406.37 403.61,406.37 404.94,406.37 406.29,406.37 407.66,406.37 409.06,406.37 410.47,406.37 411.91,406.37 413.36,406.37 414.84,406.37 416.33,406.37 417.85,406.37 419.39,406.37 420.95,406.37 422.53,406.37 424.13,406.37 425.76,406.37 427.4,406.37 429.07,406.37 430.75,406.37 432.46,406.37 434.18,406.37 435.93,406.37 437.7,406.37 439.49,406.37 440.69,406.37 441.91,406.37 443.13,406.37 444.36,406.37 445.6,406.37 446.85,406.37 448.11,406.37 449.38,406.37 450.66,406.37 451.95,406.37 453.25,406.37 454.55,406.37 455.87,406.37 457.19,406.37 458.53,406.37 459.87,406.37 461.22,406.37 462.59,406.37 463.96,406.37 465.34,406.37 466.73,406.37 468.13,406.37 469.53,406.37 470.95,406.37 472.38,406.37 473.82,406.37 475.26,406.37 476.71,406.37 478.18,406.37 479.65,406.37 481.13,406.37 482.63,406.37 484.13,406.37 485.64,406.37 487.16,406.37 488.69,406.37 490.22,406.37 491.77,406.37 493.33,406.37 494.89,406.37 496.47,406.37 498.05,406.37 499.65,406.37 501.25,406.37 502.86,406.37 504.48,406.37 506.11,406.37 507.75,406.37 509.4,406.37 511.06,406.37 512.73,406.37 514.4,406.37 516.09,406.37 517.79,406.37 519.49,406.37 521.21,406.37 522.93,406.37 524.66,406.37 526.4,406.37 528.15,406.37 529.91,406.37 531.68,406.37 533.46,406.37 535.25,406.37 537.05,406.37 538.86,406.37 540.67,406.37 542.5,406.37 544.33,406.37 546.17,406.37 547.1,406.37" stroke="#333" stroke-width="1.05" stroke-dasharray="2.2 2" fill="none"/>
<path d="M361.8,307.2C362.07,318.4 362.33,329.35 362.6,340C362.9,351.98 363.2,365.28 363.5,375C363.8,384.72 364.1,392.94 364.4,400C364.73,407.84 365.07,418.43 365.4,420.3C366.2,424.79 367,425.86 367.8,427.2C369.33,429.77 370.87,431.67 372.4,432.3C375.1,433.41 377.8,434.09 380.5,434.2C383.67,434.33 386.83,434.4 390,434.4C442.33,434.4 494.67,434.4 547,434.4" stroke="#333" stroke-width="1.05" stroke-dasharray="2.2 2" fill="none"/>
<path d="M361.8,307.2 361.84,308.77 361.87,309.97 361.92,311.5 361.97,313.34 362.03,315.47 362.1,317.88 362.13,319.18 362.18,320.54 362.22,321.96 362.26,323.44 362.31,324.97 362.36,326.54 362.41,328.16 362.47,329.82 362.52,331.53 362.58,333.26 362.64,335.03 362.71,336.83 362.77,338.65 362.84,340.5 362.91,342.36 362.99,344.24 363.06,346.13 363.14,348.03 363.22,349.94 363.3,351.85 363.39,353.76 363.47,355.67 363.56,357.57 363.65,359.46 363.75,361.34 363.84,363.2 363.94,365.05 364.04,366.88 364.15,368.69 364.25,370.48 364.36,372.25 364.47,373.98 364.58,375.69 364.7,377.37 364.81,379.02 364.93,380.63 365.05,382.21 365.18,383.76 365.3,385.27 365.43,386.75 365.56,388.18 365.7,389.58 365.83,390.94 365.97,392.27 366.11,393.55 366.25,394.8 366.4,396 366.69,398.3 367,400.44 367.31,402.42 367.64,404.26 367.97,405.95 368.31,407.51 368.67,408.93 369.03,410.22 369.4,411.4 369.97,412.95 370.57,414.28 371.18,415.39 372.03,416.61 372.92,417.56 374.09,418.44 375.31,419.06 376.59,419.49 377.93,419.78 379.32,419.97 380.77,420.1 381.98,420.16 383.22,420.21 384.5,420.24 385.81,420.26 387.17,420.27 388.56,420.28 389.98,420.29 391.45,420.29 392.95,420.29 394.49,420.29 396.06,420.29 397.27,420.3 398.49,420.3 399.74,420.3 401.01,420.3 402.3,420.3 403.61,420.3 404.94,420.3 406.29,420.3 407.66,420.3 409.06,420.3 410.47,420.3 411.91,420.3 413.36,420.3 414.84,420.3 416.33,420.3 417.85,420.3 419.39,420.3 420.95,420.3 422.53,420.3 424.13,420.3 425.76,420.3 427.4,420.3 429.07,420.3 430.75,420.3 432.46,420.3 434.18,420.3 435.93,420.3 437.7,420.3 439.49,420.3 440.69,420.3 441.91,420.3 443.13,420.3 444.36,420.3 445.6,420.3 446.85,420.3 448.11,420.3 449.38,420.3 450.66,420.3 451.95,420.3 453.25,420.3 454.55,420.3 455.87,420.3 457.19,420.3 458.53,420.3 459.87,420.3 461.22,420.3 462.59,420.3 463.96,420.3 465.34,420.3 466.73,420.3 468.13,420.3 469.53,420.3 470.95,420.3 472.38,420.3 473.82,420.3 475.26,420.3 476.71,420.3 478.18,420.3 479.65,420.3 481.13,420.3 482.63,420.3 484.13,420.3 485.64,420.3 487.16,420.3 488.69,420.3 490.22,420.3 491.77,420.3 493.33,420.3 494.89,420.3 496.47,420.3 498.05,420.3 499.65,420.3 501.25,420.3 502.86,420.3 504.48,420.3 506.11,420.3 507.75,420.3 509.4,420.3 511.06,420.3 512.73,420.3 514.4,420.3 516.09,420.3 517.79,420.3 519.49,420.3 521.21,420.3 522.93,420.3 524.66,420.3 526.4,420.3 528.15,420.3 529.91,420.3 531.68,420.3 533.46,420.3 535.25,420.3 537.05,420.3 538.86,420.3 540.67,420.3 542.5,420.3 544.33,420.3 546.17,420.3 547.1,420.3" stroke="#4a4a4a" stroke-width="1.1" fill="none"/>
<rect x="359.8" y="304.8" width="4.4" height="4.4" fill="#808080"/>
<circle cx="365" cy="317.2" r="2.3" fill="#7e7e7e"/>
<circle cx="392.7" cy="344.1" r="2.3" fill="#7e7e7e"/>
<circle cx="423.5" cy="358.4" r="2.3" fill="#7e7e7e"/>
<circle cx="454.5" cy="345.8" r="2.3" fill="#7e7e7e"/>
<circle cx="547.1" cy="360.5" r="2.3" fill="#7e7e7e"/>
<rect x="362.6" y="374.7" width="4" height="4" fill="#000"/>
<rect x="390.6" y="406.9" width="4" height="4" fill="#000"/>
<rect x="421.4" y="408.8" width="4" height="4" fill="#000"/>
<rect x="452.5" y="409.9" width="4" height="4" fill="#000"/>
<rect x="545.1" y="447" width="4" height="4" fill="#000"/>
<path d="M48.30,24.83V206.50M44.80,204.50H270.63" stroke="#333" stroke-width="1.1" fill="none"/>
<path d="M44.80,204.52H48.30M46.30,193.95H48.30M44.80,183.38H48.30M46.30,172.81H48.30M44.80,162.24H48.30M46.30,151.67H48.30M44.80,141.10H48.30M46.30,130.53H48.30M44.80,119.96H48.30M46.30,109.39H48.30M44.80,98.82H48.30M46.30,88.25H48.30M44.80,77.68H48.30M46.30,67.11H48.30M44.80,56.54H48.30M46.30,45.97H48.30M44.80,35.40H48.30M46.30,24.83H48.30M66.80,204.50V208.00M85.33,204.50V206.50M103.86,204.50V208.00M122.39,204.50V206.50M140.92,204.50V208.00M159.45,204.50V206.50M177.98,204.50V208.00M196.51,204.50V206.50M215.04,204.50V208.00M233.57,204.50V206.50M252.10,204.50V208.00M270.63,204.50V206.50" stroke="#444" stroke-width="1" fill="none"/>
<text x="38.90" y="208.22" text-anchor="end" class="tk">-8</text>
<text x="38.90" y="187.08" text-anchor="end" class="tk">-7</text>
<text x="38.90" y="165.94" text-anchor="end" class="tk">-6</text>
<text x="38.90" y="144.80" text-anchor="end" class="tk">-5</text>
<text x="38.90" y="123.66" text-anchor="end" class="tk">-4</text>
<text x="38.90" y="102.52" text-anchor="end" class="tk">-3</text>
<text x="38.90" y="81.38" text-anchor="end" class="tk">-2</text>
<text x="38.90" y="60.24" text-anchor="end" class="tk">-1</text>
<text x="38.90" y="39.10" text-anchor="end" class="tk">0</text>
<text x="66.80" y="223.70" text-anchor="middle" class="tk">0.0</text>
<text x="103.86" y="223.70" text-anchor="middle" class="tk">0.2</text>
<text x="140.92" y="223.70" text-anchor="middle" class="tk">0.4</text>
<text x="177.98" y="223.70" text-anchor="middle" class="tk">0.6</text>
<text x="215.04" y="223.70" text-anchor="middle" class="tk">0.8</text>
<text x="252.10" y="223.70" text-anchor="middle" class="tk">1.0</text>
<text x="0.60" y="13.20" class="tt">(a)</text>
<text x="24.50" y="13.10" class="st">Carpet</text>
<text x="125.20" y="242.90" class="ax">Time (hrs)</text>
<text transform="translate(12.80,156.10) rotate(-90)" class="ax">Log<tspan class="sb" dy="4.8">10</tspan><tspan dy="-4.8"> (y/y</tspan><tspan class="sb" dy="4.8">o</tspan><tspan dy="-4.8">)</tspan></text>
<rect x="207.70" y="27.00" width="4" height="4" fill="#000"/>
<circle cx="210.00" cy="43.40" r="2.3" fill="#888"/>
<text transform="translate(226.20,32.60) scale(1.06,1)" class="lg">Aerosol</text>
<text transform="translate(226.20,46.80) scale(1.06,1)" class="lg">Liquid</text>
<path d="M343.30,25.15V206.40M339.80,204.40H565.53" stroke="#333" stroke-width="1.1" fill="none"/>
<path d="M339.80,204.70H343.30M341.30,194.72H343.30M339.80,184.75H343.30M341.30,174.77H343.30M339.80,164.80H343.30M341.30,154.82H343.30M339.80,144.85H343.30M341.30,134.88H343.30M339.80,124.90H343.30M341.30,114.93H343.30M339.80,104.95H343.30M341.30,94.97H343.30M339.80,85.00H343.30M341.30,75.03H343.30M339.80,65.05H343.30M341.30,55.08H343.30M339.80,45.10H343.30M341.30,35.12H343.30M339.80,25.15H343.30M361.70,204.40V207.90M380.23,204.40V206.40M398.76,204.40V207.90M417.29,204.40V206.40M435.82,204.40V207.90M454.35,204.40V206.40M472.88,204.40V207.90M491.41,204.40V206.40M509.94,204.40V207.90M528.47,204.40V206.40M547.00,204.40V207.90M565.53,204.40V206.40" stroke="#444" stroke-width="1" fill="none"/>
<text x="334.90" y="208.75" text-anchor="end" class="tk">-8</text>
<text x="334.90" y="188.80" text-anchor="end" class="tk">-7</text>
<text x="334.90" y="168.85" text-anchor="end" class="tk">-6</text>
<text x="334.90" y="148.90" text-anchor="end" class="tk">-5</text>
<text x="334.90" y="128.95" text-anchor="end" class="tk">-4</text>
<text x="334.90" y="109.00" text-anchor="end" class="tk">-3</text>
<text x="334.90" y="89.05" text-anchor="end" class="tk">-2</text>
<text x="334.90" y="69.10" text-anchor="end" class="tk">-1</text>
<text x="334.90" y="49.15" text-anchor="end" class="tk">0</text>
<text x="334.90" y="29.20" text-anchor="end" class="tk">1</text>
<text x="361.70" y="223.70" text-anchor="middle" class="tk">0.0</text>
<text x="398.76" y="223.70" text-anchor="middle" class="tk">0.2</text>
<text x="435.82" y="223.70" text-anchor="middle" class="tk">0.4</text>
<text x="472.88" y="223.70" text-anchor="middle" class="tk">0.6</text>
<text x="509.94" y="223.70" text-anchor="middle" class="tk">0.8</text>
<text x="547.00" y="223.70" text-anchor="middle" class="tk">1.0</text>
<text x="298.60" y="13.20" class="tt">(b)</text>
<text x="322.90" y="12.20" class="st">Galvanized metal</text>
<text x="420.80" y="243.00" class="ax">Time (hrs)</text>
<text transform="translate(310.20,153.60) rotate(-90)" class="ax">Log<tspan class="sb" dy="4.8">10</tspan><tspan dy="-4.8"> (y/y</tspan><tspan class="sb" dy="4.8">o</tspan><tspan dy="-4.8">)</tspan></text>
<rect x="502.80" y="27.00" width="4" height="4" fill="#000"/>
<circle cx="505.10" cy="43.20" r="2.3" fill="#888"/>
<text transform="translate(521.40,32.60) scale(1.06,1)" class="lg">Aerosol</text>
<text transform="translate(521.40,46.80) scale(1.06,1)" class="lg">Liquid</text>
<path d="M48.30,296.60V478.10M44.80,476.10H270.53" stroke="#333" stroke-width="1.1" fill="none"/>
<path d="M44.80,475.70H48.30M46.30,465.75H48.30M44.80,455.80H48.30M46.30,445.85H48.30M44.80,435.90H48.30M46.30,425.95H48.30M44.80,416.00H48.30M46.30,406.05H48.30M44.80,396.10H48.30M46.30,386.15H48.30M44.80,376.20H48.30M46.30,366.25H48.30M44.80,356.30H48.30M46.30,346.35H48.30M44.80,336.40H48.30M46.30,326.45H48.30M44.80,316.50H48.30M46.30,306.55H48.30M44.80,296.60H48.30M66.70,476.10V479.60M85.23,476.10V478.10M103.76,476.10V479.60M122.29,476.10V478.10M140.82,476.10V479.60M159.35,476.10V478.10M177.88,476.10V479.60M196.41,476.10V478.10M214.94,476.10V479.60M233.47,476.10V478.10M252.00,476.10V479.60M270.53,476.10V478.10" stroke="#444" stroke-width="1" fill="none"/>
<text x="39.60" y="480.10" text-anchor="end" class="tk">-8</text>
<text x="39.60" y="460.20" text-anchor="end" class="tk">-7</text>
<text x="39.60" y="440.30" text-anchor="end" class="tk">-6</text>
<text x="39.60" y="420.40" text-anchor="end" class="tk">-5</text>
<text x="39.60" y="400.50" text-anchor="end" class="tk">-4</text>
<text x="39.60" y="380.60" text-anchor="end" class="tk">-3</text>
<text x="39.60" y="360.70" text-anchor="end" class="tk">-2</text>
<text x="39.60" y="340.80" text-anchor="end" class="tk">-1</text>
<text x="39.60" y="320.90" text-anchor="end" class="tk">0</text>
<text x="39.60" y="301.00" text-anchor="end" class="tk">1</text>
<text x="66.70" y="494.70" text-anchor="middle" class="tk">0.0</text>
<text x="103.76" y="494.70" text-anchor="middle" class="tk">0.2</text>
<text x="140.82" y="494.70" text-anchor="middle" class="tk">0.4</text>
<text x="177.88" y="494.70" text-anchor="middle" class="tk">0.6</text>
<text x="214.94" y="494.70" text-anchor="middle" class="tk">0.8</text>
<text x="252.00" y="494.70" text-anchor="middle" class="tk">1.0</text>
<text x="0.70" y="282.90" class="tt">(c)</text>
<text x="25.90" y="283.30" class="st">Painted wallboard paper</text>
<text x="124.80" y="513.50" class="ax">Time (hrs)</text>
<text transform="translate(13.70,428.60) rotate(-90)" class="ax">Log<tspan class="sb" dy="4.8">10</tspan><tspan dy="-4.8"> (y/y</tspan><tspan class="sb" dy="4.8">o</tspan><tspan dy="-4.8">)</tspan></text>
<rect x="207.80" y="298.20" width="4" height="4" fill="#000"/>
<circle cx="210.10" cy="314.60" r="2.3" fill="#888"/>
<text transform="translate(226.20,304.70) scale(1.06,1)" class="lg">Aerosol</text>
<text transform="translate(226.20,319.00) scale(1.06,1)" class="lg">Liquid</text>
<path d="M343.50,296.65V478.00M340.00,476.00H565.63" stroke="#333" stroke-width="1.1" fill="none"/>
<path d="M340.00,476.00H343.50M341.50,465.45H343.50M340.00,454.90H343.50M341.50,444.35H343.50M340.00,433.80H343.50M341.50,423.25H343.50M340.00,412.70H343.50M341.50,402.15H343.50M340.00,391.60H343.50M341.50,381.05H343.50M340.00,370.50H343.50M341.50,359.95H343.50M340.00,349.40H343.50M341.50,338.85H343.50M340.00,328.30H343.50M341.50,317.75H343.50M340.00,307.20H343.50M341.50,296.65H343.50M361.80,476.00V479.50M380.33,476.00V478.00M398.86,476.00V479.50M417.39,476.00V478.00M435.92,476.00V479.50M454.45,476.00V478.00M472.98,476.00V479.50M491.51,476.00V478.00M510.04,476.00V479.50M528.57,476.00V478.00M547.10,476.00V479.50M565.63,476.00V478.00" stroke="#444" stroke-width="1" fill="none"/>
<text x="334.40" y="479.70" text-anchor="end" class="tk">-8</text>
<text x="334.40" y="458.60" text-anchor="end" class="tk">-7</text>
<text x="334.40" y="437.50" text-anchor="end" class="tk">-6</text>
<text x="334.40" y="416.40" text-anchor="end" class="tk">-5</text>
<text x="334.40" y="395.30" text-anchor="end" class="tk">-4</text>
<text x="334.40" y="374.20" text-anchor="end" class="tk">-3</text>
<text x="334.40" y="353.10" text-anchor="end" class="tk">-2</text>
<text x="334.40" y="332.00" text-anchor="end" class="tk">-1</text>
<text x="334.40" y="310.90" text-anchor="end" class="tk">0</text>
<text x="361.80" y="494.70" text-anchor="middle" class="tk">0.0</text>
<text x="398.86" y="494.70" text-anchor="middle" class="tk">0.2</text>
<text x="435.92" y="494.70" text-anchor="middle" class="tk">0.4</text>
<text x="472.98" y="494.70" text-anchor="middle" class="tk">0.6</text>
<text x="510.04" y="494.70" text-anchor="middle" class="tk">0.8</text>
<text x="547.10" y="494.70" text-anchor="middle" class="tk">1.0</text>
<text x="298.50" y="283.10" class="tt">(d)</text>
<text x="323.30" y="283.45" class="st">Wood</text>
<text x="420.30" y="513.10" class="ax">Time (hrs)</text>
<text transform="translate(308.20,429.90) rotate(-90)" class="ax">Log<tspan class="sb" dy="4.8">10</tspan><tspan dy="-4.8"> (y/y</tspan><tspan class="sb" dy="4.8">o</tspan><tspan dy="-4.8">)</tspan></text>
<rect x="502.90" y="298.20" width="4" height="4" fill="#000"/>
<circle cx="505.20" cy="314.60" r="2.3" fill="#888"/>
<text transform="translate(521.40,304.70) scale(1.06,1)" class="lg">Aerosol</text>
<text transform="translate(521.40,319.00) scale(1.06,1)" class="lg">Liquid</text>
</svg></body></html>
